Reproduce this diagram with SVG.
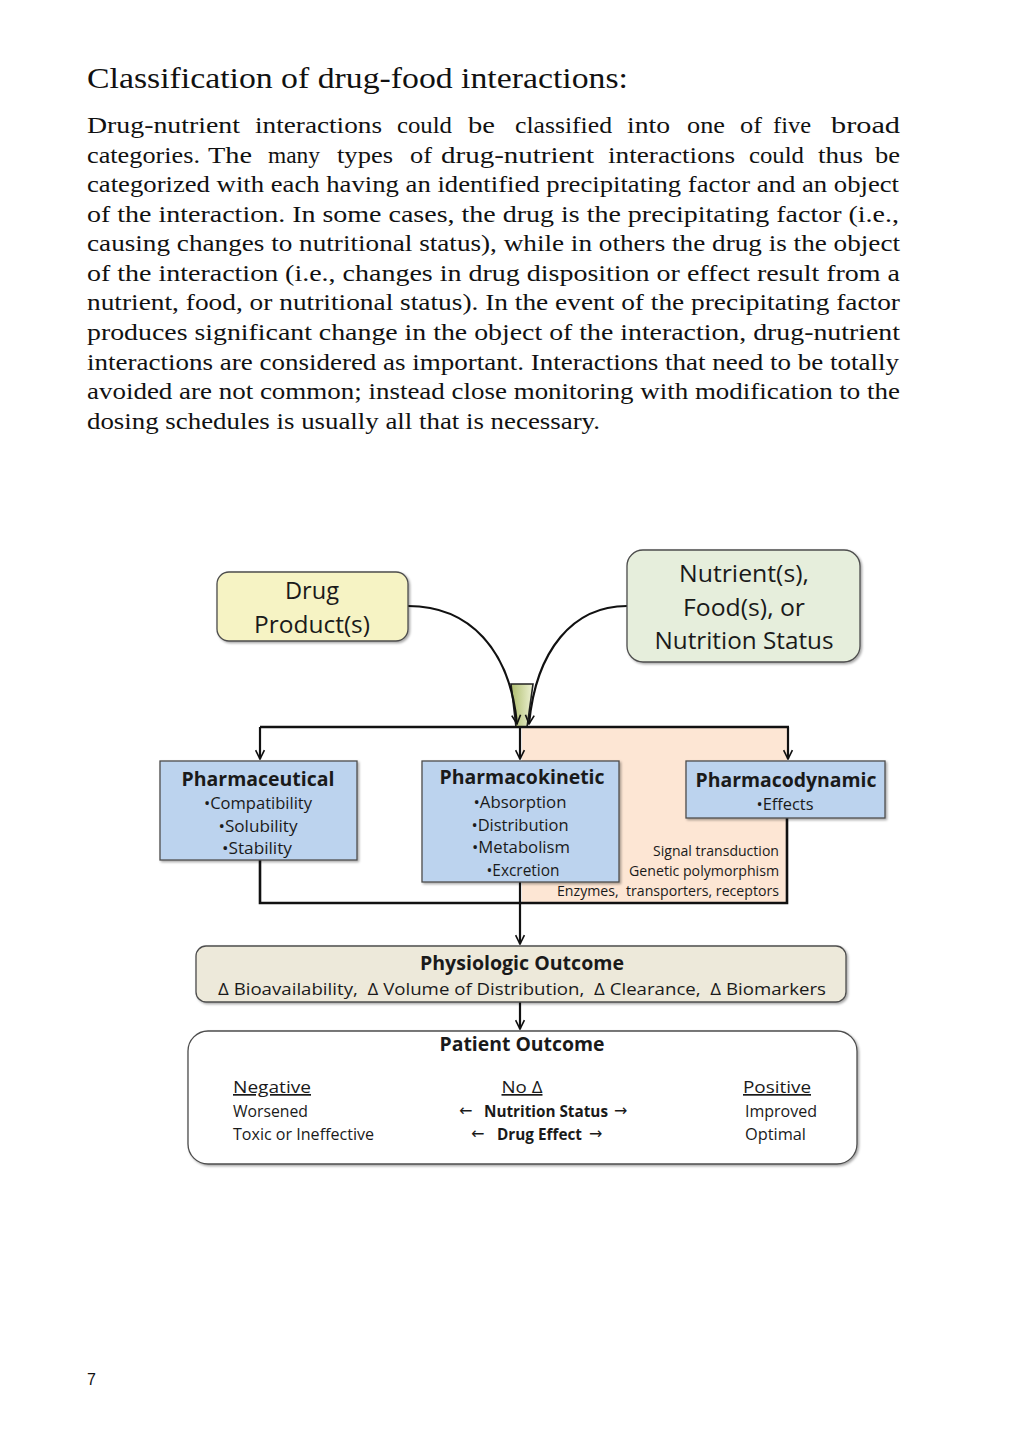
<svg xmlns="http://www.w3.org/2000/svg" width="1024" height="1449" viewBox="0 0 1024 1449">
<defs>
<style>
.body{font-family:"Liberation Serif","Times New Roman",serif;font-size:23px;fill:#111}
.title{font-family:"Liberation Serif","Times New Roman",serif;font-size:29px;fill:#111}
.lbl{font-family:"Open Sans","Liberation Sans",Arial,sans-serif;fill:#1a1a1a}
.arw{font-family:"DejaVu Sans",sans-serif;font-size:16px;fill:#1a1a1a}
.big{font-size:23px}
.hd{font-size:19px;font-weight:bold}
.it{font-size:16px}
.sm{font-size:14px}
.box{stroke:#4d4d4d;stroke-width:1.3}
.ln{fill:none;stroke:#111;stroke-width:2.6}
.ar{fill:none;stroke:#111;stroke-width:2.2}
</style>
<marker id="ah" viewBox="0 0 10 10" refX="9" refY="5" markerWidth="5" markerHeight="5" orient="auto" markerUnits="strokeWidth">
<path d="M1,1 L9,5 L1,9" fill="none" stroke="#111" stroke-width="1.5"/>
</marker>
<linearGradient id="fun" x1="0" y1="0" x2="1" y2="0">
<stop offset="0" stop-color="#aebd6e"/>
<stop offset="1" stop-color="#eef2d4"/>
</linearGradient>
<filter id="sh" x="-5%" y="-5%" width="110%" height="120%">
<feDropShadow dx="1.5" dy="1.5" stdDeviation="1.2" flood-color="#000" flood-opacity="0.35"/>
</filter>
</defs>
<rect width="1024" height="1449" fill="#ffffff"/>

<g id="text">
<text class="title" x="87" y="88" textLength="541" lengthAdjust="spacingAndGlyphs">Classification of drug-food interactions:</text>
<g id="line1">
<text class="body" x="87" y="133" textLength="153" lengthAdjust="spacingAndGlyphs">Drug-nutrient</text>
<text class="body" x="255" y="133" textLength="127" lengthAdjust="spacingAndGlyphs">interactions</text>
<text class="body" x="397" y="133" textLength="55" lengthAdjust="spacingAndGlyphs">could</text>
<text class="body" x="468" y="133" textLength="27" lengthAdjust="spacingAndGlyphs">be</text>
<text class="body" x="515" y="133" textLength="97" lengthAdjust="spacingAndGlyphs">classified</text>
<text class="body" x="627" y="133" textLength="43" lengthAdjust="spacingAndGlyphs">into</text>
<text class="body" x="687" y="133" textLength="38" lengthAdjust="spacingAndGlyphs">one</text>
<text class="body" x="740" y="133" textLength="22" lengthAdjust="spacingAndGlyphs">of</text>
<text class="body" x="773" y="133" textLength="38" lengthAdjust="spacingAndGlyphs">five</text>
<text class="body" x="831" y="133" textLength="69" lengthAdjust="spacingAndGlyphs">broad</text>
</g>
<g id="line2">
<text class="body" x="87" y="163" textLength="113" lengthAdjust="spacingAndGlyphs">categories.</text>
<text class="body" x="208" y="163" textLength="44" lengthAdjust="spacingAndGlyphs">The</text>
<text class="body" x="268" y="163" textLength="52" lengthAdjust="spacingAndGlyphs">many</text>
<text class="body" x="337" y="163" textLength="56" lengthAdjust="spacingAndGlyphs">types</text>
<text class="body" x="410" y="163" textLength="22" lengthAdjust="spacingAndGlyphs">of</text>
<text class="body" x="441" y="163" textLength="153" lengthAdjust="spacingAndGlyphs">drug-nutrient</text>
<text class="body" x="608" y="163" textLength="127" lengthAdjust="spacingAndGlyphs">interactions</text>
<text class="body" x="749" y="163" textLength="55" lengthAdjust="spacingAndGlyphs">could</text>
<text class="body" x="818" y="163" textLength="45" lengthAdjust="spacingAndGlyphs">thus</text>
<text class="body" x="875" y="163" textLength="25" lengthAdjust="spacingAndGlyphs">be</text>
</g>
<text class="body" x="87" y="192" textLength="812" lengthAdjust="spacingAndGlyphs">categorized with each having an identified precipitating factor and an object</text>
<text class="body" x="87" y="222" textLength="812" lengthAdjust="spacingAndGlyphs">of the interaction. In some cases, the drug is the precipitating factor (i.e.,</text>
<text class="body" x="87" y="251" textLength="813" lengthAdjust="spacingAndGlyphs">causing changes to nutritional status), while in others the drug is the object</text>
<text class="body" x="87" y="281" textLength="813" lengthAdjust="spacingAndGlyphs">of the interaction (i.e., changes in drug disposition or effect result from a</text>
<text class="body" x="87" y="310" textLength="813" lengthAdjust="spacingAndGlyphs">nutrient, food, or nutritional status). In the event of the precipitating factor</text>
<text class="body" x="87" y="340" textLength="813" lengthAdjust="spacingAndGlyphs">produces significant change in the object of the interaction, drug-nutrient</text>
<text class="body" x="87" y="370" textLength="812" lengthAdjust="spacingAndGlyphs">interactions are considered as important. Interactions that need to be totally</text>
<text class="body" x="87" y="399" textLength="813" lengthAdjust="spacingAndGlyphs">avoided are not common; instead close monitoring with modification to the</text>
<text class="body" x="87" y="429" textLength="513" lengthAdjust="spacingAndGlyphs">dosing schedules is usually all that is necessary.</text>
<text x="87" y="1385" font-family="Liberation Sans,Arial,sans-serif" font-size="16" fill="#111">7</text>
</g>

<g id="peach-region">
<rect x="522" y="728" width="265" height="175" fill="#fde6d4"/>
</g>

<g id="connectors">
<polygon points="511,684 533,684 527,727 516,727" fill="url(#fun)" stroke="#222" stroke-width="1.6"/>
<path class="ar" d="M408,606 C470,606 510,650 517,724" marker-end="url(#ah)"/>
<path class="ar" d="M627,606 C573,606 536,650 529,724" marker-end="url(#ah)"/>
<path class="ln" d="M260,727 H789"/>
<path class="ar" d="M260,727 V759" marker-end="url(#ah)"/>
<path class="ar" d="M520,727 V759" marker-end="url(#ah)"/>
<path class="ar" d="M788,727 V759" marker-end="url(#ah)"/>
<path class="ln" d="M260,860 V903 H787 V818"/>
<path class="ar" d="M520,882 V944" marker-end="url(#ah)"/>
<path class="ar" d="M520,1002 V1029" marker-end="url(#ah)"/>
</g>

<g id="drug">
<rect class="box" x="217" y="572" width="191" height="69" rx="12" fill="#f6f3c4" filter="url(#sh)"/>
<text class="lbl big" x="312" y="599" text-anchor="middle" textLength="54" lengthAdjust="spacingAndGlyphs">Drug</text>
<text class="lbl big" x="312" y="633" text-anchor="middle" textLength="116" lengthAdjust="spacingAndGlyphs">Product(s)</text>
</g>

<g id="nutrient">
<rect class="box" x="627" y="550" width="233" height="112" rx="16" fill="#e6eedc" filter="url(#sh)"/>
<text class="lbl big" x="744" y="582" text-anchor="middle" textLength="130" lengthAdjust="spacingAndGlyphs">Nutrient(s),</text>
<text class="lbl big" x="744" y="616" text-anchor="middle" textLength="122" lengthAdjust="spacingAndGlyphs">Food(s), or</text>
<text class="lbl big" x="744" y="649" text-anchor="middle" textLength="179" lengthAdjust="spacingAndGlyphs">Nutrition Status</text>
</g>

<g id="pharmaceutical">
<rect class="box" x="160" y="761" width="197" height="99" fill="#bcd3ee" filter="url(#sh)"/>
<text class="lbl hd" x="258" y="786" text-anchor="middle" textLength="153" lengthAdjust="spacingAndGlyphs">Pharmaceutical</text>
<text class="lbl it" x="258" y="809" text-anchor="middle" textLength="108" lengthAdjust="spacingAndGlyphs">•Compatibility</text>
<text class="lbl it" x="258" y="832" text-anchor="middle" textLength="79" lengthAdjust="spacingAndGlyphs">•Solubility</text>
<text class="lbl it" x="257" y="854" text-anchor="middle" textLength="70" lengthAdjust="spacingAndGlyphs">•Stability</text>
</g>

<g id="pharmacokinetic">
<rect class="box" x="422" y="761" width="197" height="121" fill="#bcd3ee" filter="url(#sh)"/>
<text class="lbl hd" x="522" y="784" text-anchor="middle" textLength="165" lengthAdjust="spacingAndGlyphs">Pharmacokinetic</text>
<text class="lbl it" x="520" y="808" text-anchor="middle" textLength="93" lengthAdjust="spacingAndGlyphs">•Absorption</text>
<text class="lbl it" x="520" y="831" text-anchor="middle" textLength="97" lengthAdjust="spacingAndGlyphs">•Distribution</text>
<text class="lbl it" x="521" y="853" text-anchor="middle" textLength="98" lengthAdjust="spacingAndGlyphs">•Metabolism</text>
<text class="lbl it" x="523" y="876" text-anchor="middle" textLength="73" lengthAdjust="spacingAndGlyphs">•Excretion</text>
</g>

<g id="pharmacodynamic">
<rect class="box" x="686" y="761" width="199" height="57" fill="#bcd3ee" filter="url(#sh)"/>
<text class="lbl hd" x="786" y="787" text-anchor="middle" textLength="181" lengthAdjust="spacingAndGlyphs">Pharmacodynamic</text>
<text class="lbl it" x="785" y="810" text-anchor="middle" textLength="57" lengthAdjust="spacingAndGlyphs">•Effects</text>
</g>

<g id="pd-notes">
<text class="lbl sm" x="779" y="856" text-anchor="end" textLength="126" lengthAdjust="spacingAndGlyphs">Signal transduction</text>
<text class="lbl sm" x="779" y="876" text-anchor="end" textLength="150" lengthAdjust="spacingAndGlyphs">Genetic polymorphism</text>
<text class="lbl sm" x="779" y="896" text-anchor="end" textLength="222" lengthAdjust="spacingAndGlyphs" xml:space="preserve">Enzymes,  transporters, receptors</text>
</g>

<g id="physiologic">
<rect class="box" x="196" y="946" width="650" height="56" rx="10" fill="#ede9da" filter="url(#sh)"/>
<text class="lbl hd" x="522" y="970" text-anchor="middle" textLength="204" lengthAdjust="spacingAndGlyphs">Physiologic Outcome</text>
<text class="lbl" font-size="17" x="522" y="995" text-anchor="middle" textLength="608" lengthAdjust="spacingAndGlyphs" xml:space="preserve">Δ Bioavailability,  Δ Volume of Distribution,  Δ Clearance,  Δ Biomarkers</text>
</g>

<g id="patient">
<rect class="box" x="188" y="1031" width="669" height="133" rx="20" fill="#ffffff" filter="url(#sh)"/>
<text class="lbl hd" x="522" y="1051" text-anchor="middle" textLength="165" lengthAdjust="spacingAndGlyphs">Patient Outcome</text>
<text class="lbl" font-size="17" x="233" y="1093" text-decoration="underline" textLength="78" lengthAdjust="spacingAndGlyphs">Negative</text>
<text class="lbl it" x="233" y="1117" textLength="75" lengthAdjust="spacingAndGlyphs">Worsened</text>
<text class="lbl it" x="233" y="1140" textLength="141" lengthAdjust="spacingAndGlyphs">Toxic or Ineffective</text>
<text class="lbl" font-size="17" x="522" y="1093" text-anchor="middle" text-decoration="underline" textLength="41" lengthAdjust="spacingAndGlyphs">No Δ</text>
<text class="arw" x="459" y="1116">←</text>
<text class="lbl it" x="484" y="1117" font-weight="bold" textLength="124" lengthAdjust="spacingAndGlyphs">Nutrition Status</text>
<text class="arw" x="614" y="1116">→</text>
<text class="arw" x="471" y="1139">←</text>
<text class="lbl it" x="497" y="1140" font-weight="bold" textLength="85" lengthAdjust="spacingAndGlyphs">Drug Effect</text>
<text class="arw" x="589" y="1139">→</text>
<text class="lbl" font-size="17" x="743" y="1093" text-decoration="underline" textLength="68" lengthAdjust="spacingAndGlyphs">Positive</text>
<text class="lbl it" x="745" y="1117" textLength="72" lengthAdjust="spacingAndGlyphs">Improved</text>
<text class="lbl it" x="745" y="1140" textLength="61" lengthAdjust="spacingAndGlyphs">Optimal</text>
</g>
</svg>
